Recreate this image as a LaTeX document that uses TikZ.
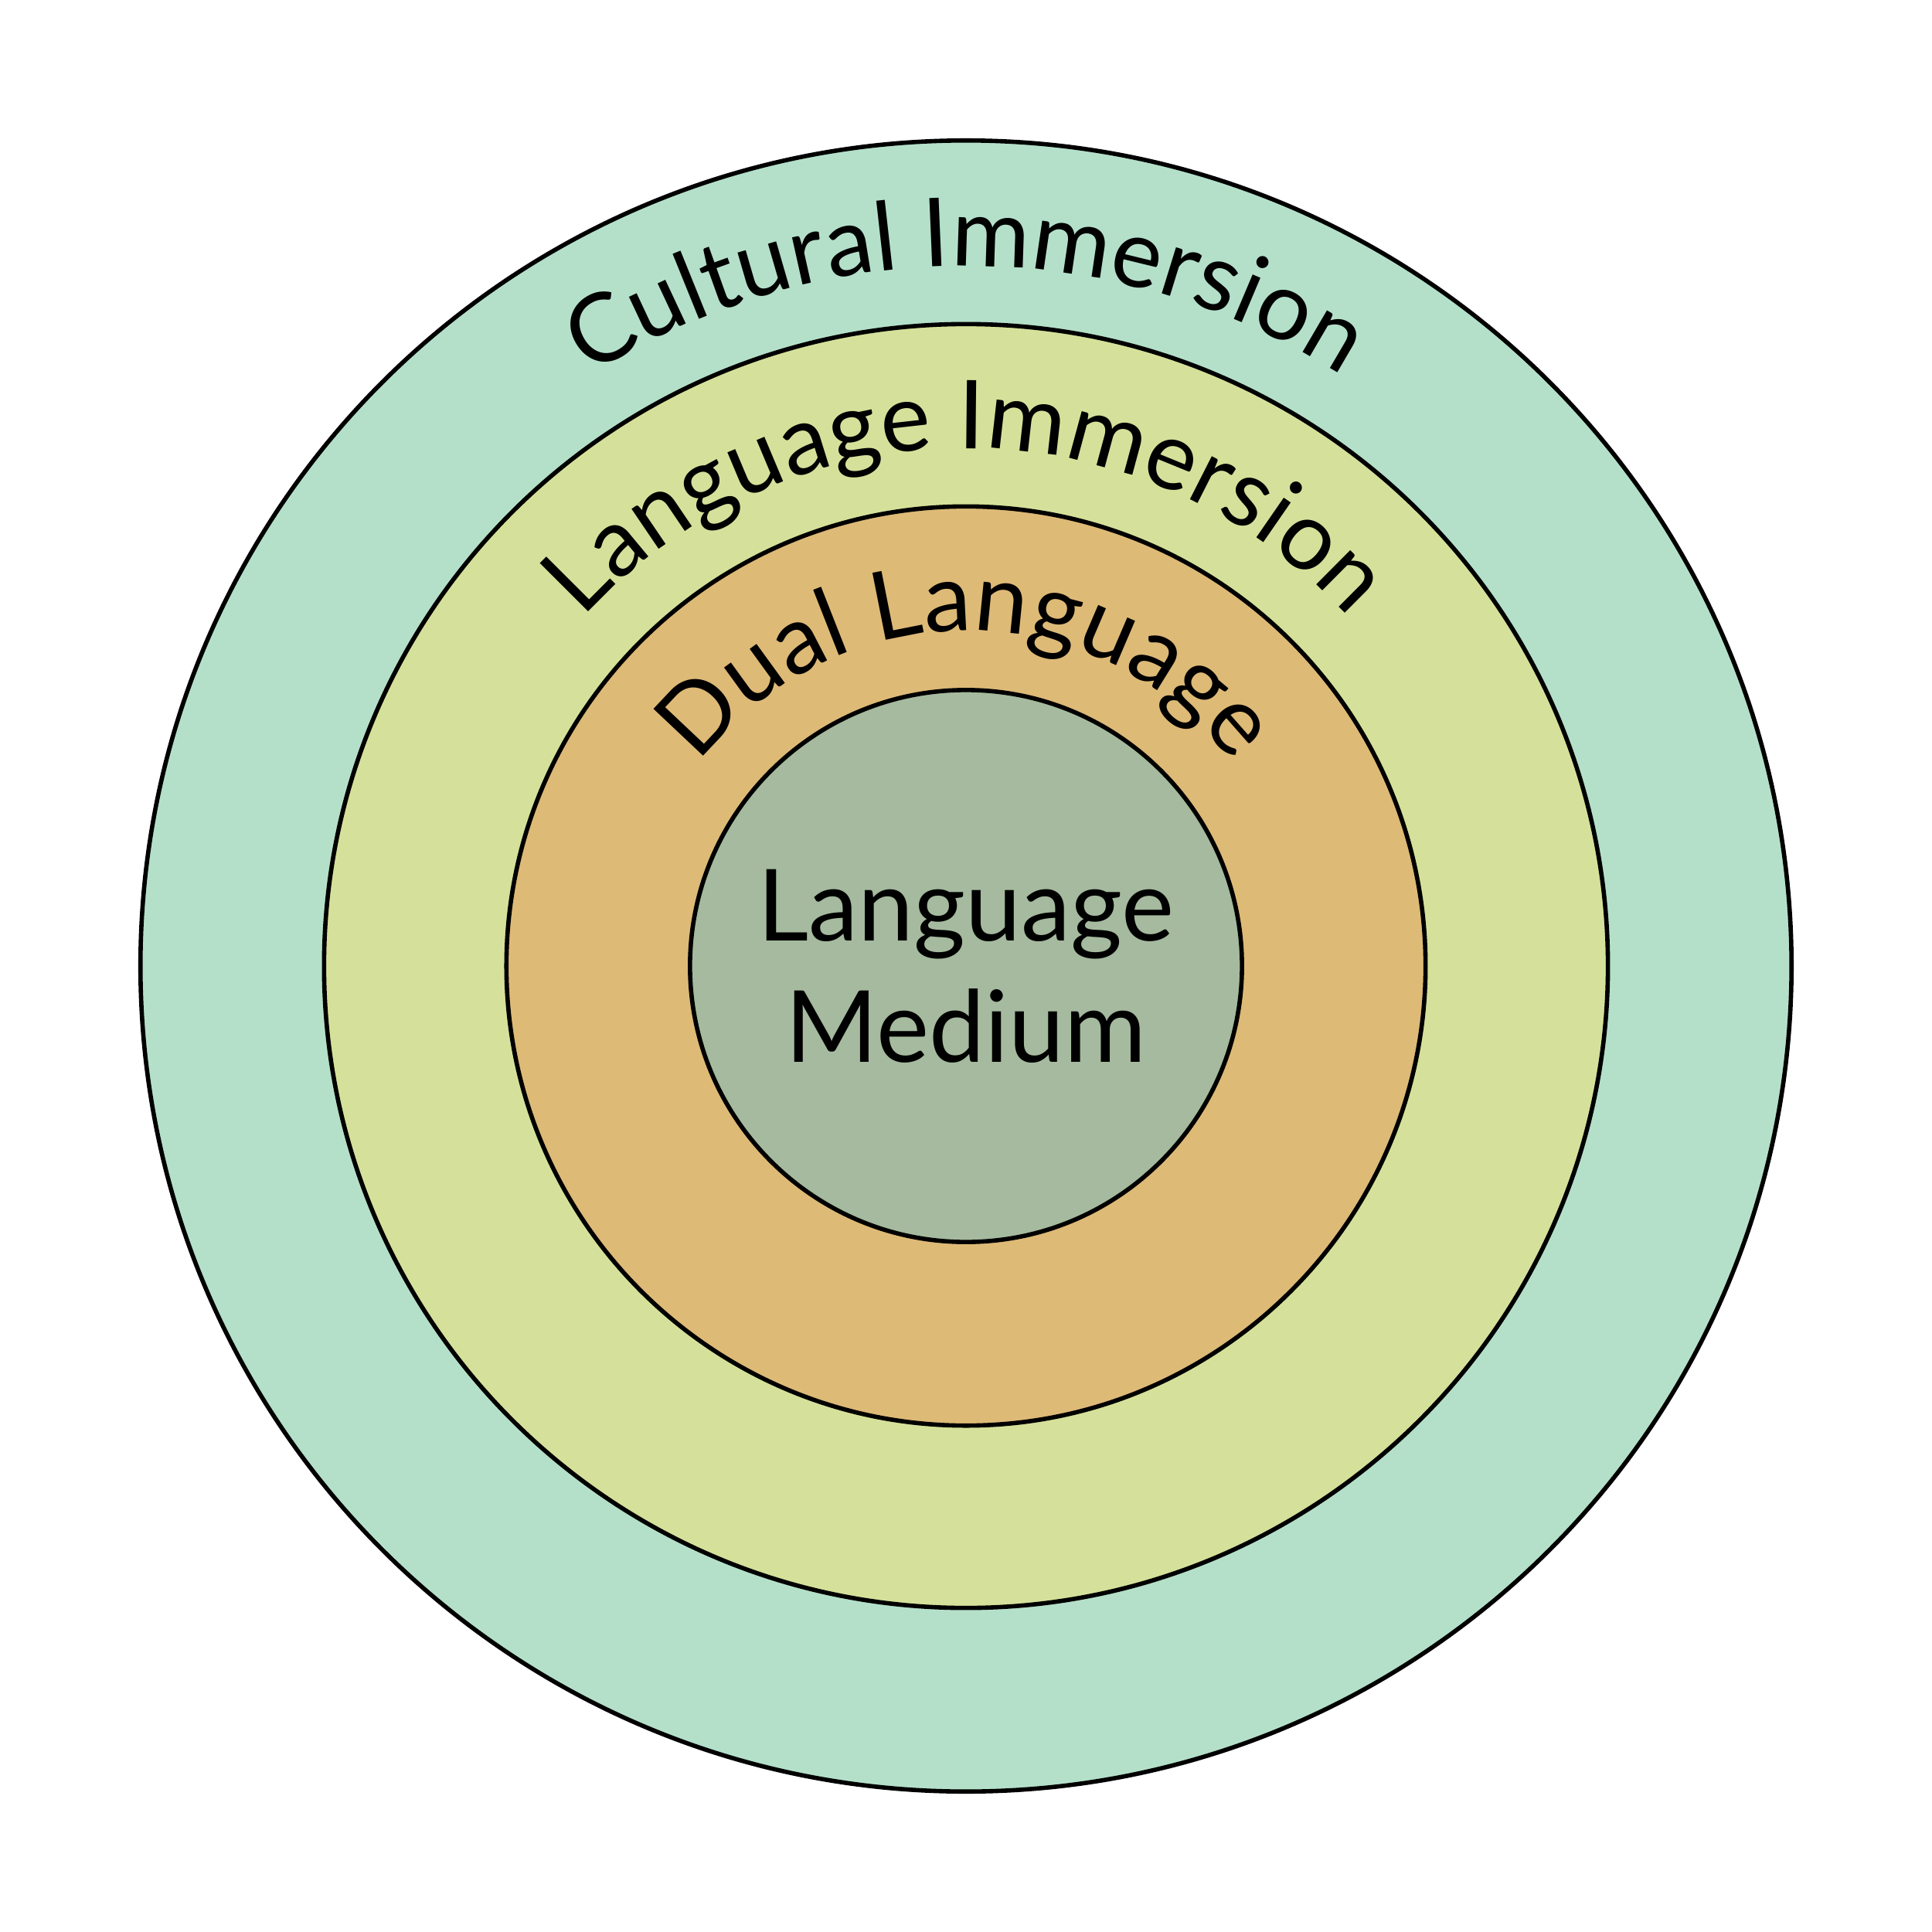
\documentclass[tikz,border=0pt]{standalone}
\usepackage{fontspec}
\setmainfont{Lato}
\usetikzlibrary{decorations.text}
\definecolor{cOut}{HTML}{B4E0CA}
\definecolor{cSec}{HTML}{D5E19A}
\definecolor{cThi}{HTML}{DEBA77}
\definecolor{cIn}{HTML}{A5BA9E}
\begin{document}
\begin{tikzpicture}[x=0.1mm,y=0.1mm,
  ring/.style={circle,draw=black,line width=1pt,inner sep=0pt},
  arctext/.style={decorate,decoration={text along path,text align=center,
    text format delimiters={|}{|},text={#1}}}]
\useasboundingbox (-784,-784) rectangle (784,784);
\node[ring,fill=cOut,minimum size=134mm] (c1) at (0,0) {};
\node[ring,fill=cSec,minimum size=104.2mm] (c2) at (0,0) {};
\node[ring,fill=cThi,minimum size=74.6mm] (c3) at (0,0) {};
\node[ring,fill=cIn,minimum size=44.8mm] (c4) at (0,0) {};
\node[align=center,font=\fontsize{23}{28}\selectfont] (lm) at (0,0) {Language\\Medium};
\path[arctext={|\fontsize{22}{26}\selectfont|Cultural Immersion}]
  (150:568) arc[start angle=150,end angle=30,radius=568];
\path[arctext={|\fontsize{22}{26}\selectfont|Language Immersion}]
  (160:420) arc[start angle=160,end angle=20,radius=420];
\path[arctext={|\fontsize{22}{26}\selectfont|Dual Language}]
  (165:272) arc[start angle=165,end angle=15,radius=272];
\end{tikzpicture}
\end{document}
